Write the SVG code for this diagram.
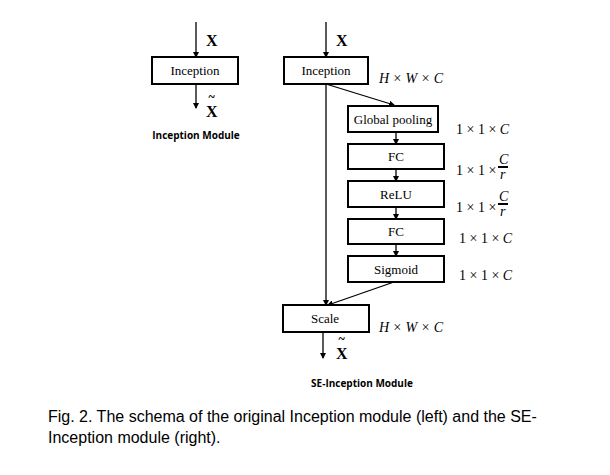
<svg xmlns="http://www.w3.org/2000/svg" width="610" height="475" viewBox="0 0 610 475">
<defs><marker id="a" markerWidth="6" markerHeight="6" refX="5" refY="3" orient="auto" markerUnits="userSpaceOnUse"><path d="M0,0 L6,3 L0,6 z" fill="#000"/></marker></defs>
<style>
.b{fill:#fff;stroke:#000;stroke-width:2}
.t{font-family:"Liberation Serif",serif;font-size:13px;text-anchor:middle}
.m{font-family:"Liberation Serif",serif;font-size:14px}
.x{font-family:"Liberation Serif",serif;font-size:16px;font-weight:bold}
.w{font-family:"Liberation Serif",serif;font-size:12px;font-weight:bold}
.h{font-family:"Open Sans","DejaVu Sans",sans-serif;font-size:10px;font-weight:bold;text-anchor:middle}
.c{stroke:#000;stroke-width:1.3;fill:none}
</style>
<rect width="610" height="475" fill="#fff"/>
<g id="connectors">
<line class="c" x1="196" y1="22" x2="196" y2="57" marker-end="url(#a)"/>
<line class="c" x1="196" y1="84" x2="196" y2="108" marker-end="url(#a)"/>
<line class="c" x1="326" y1="22" x2="326" y2="57" marker-end="url(#a)"/>
<line class="c" x1="326" y1="84" x2="394" y2="105" marker-end="url(#a)"/>
<line class="c" x1="326" y1="84" x2="326" y2="305" marker-end="url(#a)"/>
<line class="c" x1="396" y1="132" x2="396" y2="144" marker-end="url(#a)"/>
<line class="c" x1="396" y1="169" x2="396" y2="181" marker-end="url(#a)"/>
<line class="c" x1="396" y1="207" x2="396" y2="219" marker-end="url(#a)"/>
<line class="c" x1="396" y1="244" x2="396" y2="256" marker-end="url(#a)"/>
<line class="c" x1="394" y1="282" x2="328" y2="305" marker-end="url(#a)"/>
<line class="c" x1="323" y1="332" x2="323" y2="358" marker-end="url(#a)"/>
</g>
<g id="inception-left"><rect class="b" x="152" y="57" width="86" height="27"/><text class="t" x="195" y="75">Inception</text></g>
<g id="inception-right"><rect class="b" x="284" y="57" width="84" height="27"/><text class="t" x="326" y="75">Inception</text></g>
<g id="gp"><rect class="b" x="348" y="106" width="90" height="26"/><text class="t" x="393" y="124">Global pooling</text></g>
<g id="fc1"><rect class="b" x="348" y="144" width="96" height="25"/><text class="t" x="396" y="161">FC</text></g>
<g id="relu"><rect class="b" x="348" y="181" width="96" height="26"/><text class="t" x="396" y="199">ReLU</text></g>
<g id="fc2"><rect class="b" x="348" y="219" width="96" height="25"/><text class="t" x="396" y="236">FC</text></g>
<g id="sig"><rect class="b" x="348" y="256" width="96" height="26"/><text class="t" x="396" y="274">Sigmoid</text></g>
<g id="scale"><rect class="b" x="283" y="305" width="86" height="27"/><text class="t" x="325" y="323">Scale</text></g>
<text class="x" x="206" y="46">X</text>
<text class="x" x="206" y="117">X</text><text class="w" x="208.5" y="101">~</text>
<text class="x" x="336" y="46">X</text>
<text class="x" x="336" y="359">X</text><text class="w" x="338.5" y="343">~</text>
<text class="h" x="196" y="139">Inception Module</text>
<text class="h" x="362" y="387">SE-Inception Module</text>
<text class="m" x="379" y="83" font-style="italic">H × W × C</text>
<text class="m" x="379" y="332" font-style="italic">H × W × C</text>
<text class="m" x="456" y="134">1 × 1 × <tspan font-style="italic">C</tspan></text>
<text class="m" x="456" y="175">1 × 1 ×</text>
<text class="m" x="499" y="164" font-style="italic">C</text><line x1="498" y1="167" x2="508" y2="167" stroke="#000" stroke-width="2"/><text class="m" x="500" y="179" font-style="italic">r</text>
<text class="m" x="456" y="212">1 × 1 ×</text>
<text class="m" x="499" y="201" font-style="italic">C</text><line x1="498" y1="204" x2="508" y2="204" stroke="#000" stroke-width="2"/><text class="m" x="500" y="216" font-style="italic">r</text>
<text class="m" x="459" y="243">1 × 1 × <tspan font-style="italic">C</tspan></text>
<text class="m" x="459" y="280">1 × 1 × <tspan font-style="italic">C</tspan></text>
<g font-family="Liberation Sans,sans-serif" font-size="16px">
<text x="48" y="422">Fig. 2. The schema of the original Inception module (left) and the SE-</text>
<text x="48" y="443">Inception module (right).</text>
</g>
</svg>
